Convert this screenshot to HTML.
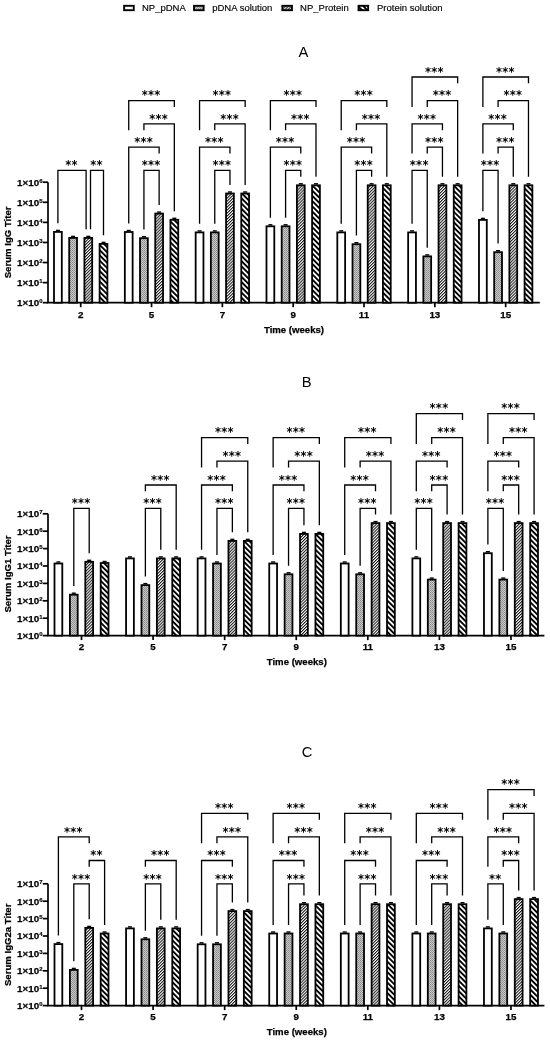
<!DOCTYPE html>
<html><head><meta charset="utf-8"><title>Serum titers</title>
<style>
html,body{margin:0;padding:0;background:#fff;}
svg{display:block;}
text{font-family:"Liberation Sans", Arial, Helvetica, sans-serif;fill:#000;}
.ttl{font-size:14.8px;text-anchor:middle;}
.axt{font-size:9.6px;font-weight:bold;stroke:#000;stroke-width:0.25px;}
.tl{font-size:9.8px;font-weight:bold;stroke:#000;stroke-width:0.25px;}
.sup{font-size:6px;font-weight:bold;stroke:#000;stroke-width:0.15px;}
.lg{font-size:9.5px;stroke:#000;stroke-width:0.15px;}
.st{font-family:"DejaVu Sans",sans-serif;font-weight:bold;font-size:11.5px;letter-spacing:0.25px;}
.ax{stroke:#000;stroke-width:1.7;fill:none;}
.bar{stroke:#000;stroke-width:1.8;}
.err{stroke:#000;stroke-width:1.4;}
.br{stroke:#000;stroke-width:1.3;fill:none;}
</style></head>
<body>
<svg width="550" height="1040" viewBox="0 0 550 1040">
<rect width="550" height="1040" fill="#fff"/>

<defs>
 <pattern id="p2" patternUnits="userSpaceOnUse" width="2" height="2">
  <rect width="2" height="2" fill="#c8c8c8"/>
  <rect width="1" height="1" fill="#8a8a8a"/>
  <rect x="1" y="1" width="1" height="1" fill="#9a9a9a"/>
 </pattern>
 <pattern id="p3" patternUnits="userSpaceOnUse" width="2.1" height="2.1" patternTransform="rotate(45)">
  <rect width="2.1" height="2.1" fill="#ffffff"/>
  <rect width="1.0" height="2.1" fill="#111"/>
 </pattern>
 <pattern id="p4" patternUnits="userSpaceOnUse" width="3.7" height="3.7" patternTransform="rotate(-45)">
  <rect width="3.7" height="3.7" fill="#ffffff"/>
  <rect width="1.9" height="3.7" fill="#000"/>
 </pattern>
</defs>

<g class="panel">
<text x="303.5" y="56.8" class="ttl">A</text>
<text class="axt" transform="translate(10.5,242.4) rotate(-90)" text-anchor="middle">Serum IgG Titer</text>
<line x1="42.8" x2="48" y1="302.7" y2="302.7" class="ax"/>
<text x="39.1" y="306.1" class="tl" text-anchor="end">1×10</text>
<text x="39.2" y="303" class="sup">0</text>
<line x1="42.8" x2="48" y1="282.62" y2="282.62" class="ax"/>
<text x="39.1" y="286.02" class="tl" text-anchor="end">1×10</text>
<text x="39.2" y="282.92" class="sup">1</text>
<line x1="42.8" x2="48" y1="262.54" y2="262.54" class="ax"/>
<text x="39.1" y="265.94" class="tl" text-anchor="end">1×10</text>
<text x="39.2" y="262.84" class="sup">2</text>
<line x1="42.8" x2="48" y1="242.46" y2="242.46" class="ax"/>
<text x="39.1" y="245.86" class="tl" text-anchor="end">1×10</text>
<text x="39.2" y="242.76" class="sup">3</text>
<line x1="42.8" x2="48" y1="222.38" y2="222.38" class="ax"/>
<text x="39.1" y="225.78" class="tl" text-anchor="end">1×10</text>
<text x="39.2" y="222.68" class="sup">4</text>
<line x1="42.8" x2="48" y1="202.3" y2="202.3" class="ax"/>
<text x="39.1" y="205.7" class="tl" text-anchor="end">1×10</text>
<text x="39.2" y="202.6" class="sup">5</text>
<line x1="42.8" x2="48" y1="182.22" y2="182.22" class="ax"/>
<text x="39.1" y="185.62" class="tl" text-anchor="end">1×10</text>
<text x="39.2" y="182.52" class="sup">6</text>
<path d="M48 182.22 V302.7 H539.8" class="ax" fill="none"/>
<line x1="80.7" x2="80.7" y1="302.7" y2="307.2" class="ax"/>
<text x="80.7" y="317.6" class="tl" text-anchor="middle">2</text>
<rect x="54" y="231.9" width="7.8" height="70.8" fill="#fff" class="bar"/>
<line x1="55.9" x2="59.9" y1="230.4" y2="230.4" class="err"/>
<rect x="69.2" y="237.9" width="7.8" height="64.8" fill="url(#p2)" class="bar"/>
<line x1="71.1" x2="75.1" y1="236.4" y2="236.4" class="err"/>
<rect x="84.4" y="237.9" width="7.8" height="64.8" fill="url(#p3)" class="bar"/>
<line x1="86.3" x2="90.3" y1="236.4" y2="236.4" class="err"/>
<rect x="99.6" y="243.9" width="7.8" height="58.8" fill="url(#p4)" class="bar"/>
<line x1="101.5" x2="105.5" y1="242.4" y2="242.4" class="err"/>
<path d="M57.9 223.3 V170.3 H86.1 V229.3" class="br"/>
<text x="71.62" y="169" class="st" text-anchor="middle">**</text>
<path d="M90.5 229.3 V170.3 H103.5 V235.3" class="br"/>
<text x="96.62" y="169" class="st" text-anchor="middle">**</text>
<line x1="151.53" x2="151.53" y1="302.7" y2="307.2" class="ax"/>
<text x="151.53" y="317.6" class="tl" text-anchor="middle">5</text>
<rect x="124.83" y="232" width="7.8" height="70.7" fill="#fff" class="bar"/>
<line x1="126.73" x2="130.73" y1="230.5" y2="230.5" class="err"/>
<rect x="140.03" y="238.2" width="7.8" height="64.5" fill="url(#p2)" class="bar"/>
<line x1="141.93" x2="145.93" y1="236.7" y2="236.7" class="err"/>
<rect x="155.23" y="213.6" width="7.8" height="89.1" fill="url(#p3)" class="bar"/>
<line x1="157.13" x2="161.13" y1="212.1" y2="212.1" class="err"/>
<rect x="170.43" y="219.8" width="7.8" height="82.9" fill="url(#p4)" class="bar"/>
<line x1="172.33" x2="176.33" y1="218.3" y2="218.3" class="err"/>
<path d="M128.73 130.2 V100.6 H174.33 V106.9" class="br"/>
<text x="151.16" y="99.3" class="st" text-anchor="middle">***</text>
<path d="M143.93 130.2 V123.9 H174.33 V211.2" class="br"/>
<text x="158.75" y="122.6" class="st" text-anchor="middle">***</text>
<path d="M128.73 223.4 V147.2 H159.13 V153.5" class="br"/>
<text x="143.56" y="145.9" class="st" text-anchor="middle">***</text>
<path d="M143.93 229.6 V170.3 H159.13 V205" class="br"/>
<text x="151.16" y="169" class="st" text-anchor="middle">***</text>
<line x1="222.36" x2="222.36" y1="302.7" y2="307.2" class="ax"/>
<text x="222.36" y="317.6" class="tl" text-anchor="middle">7</text>
<rect x="195.66" y="232.4" width="7.8" height="70.3" fill="#fff" class="bar"/>
<line x1="197.56" x2="201.56" y1="230.9" y2="230.9" class="err"/>
<rect x="210.86" y="232.4" width="7.8" height="70.3" fill="url(#p2)" class="bar"/>
<line x1="212.76" x2="216.76" y1="230.9" y2="230.9" class="err"/>
<rect x="226.06" y="193.5" width="7.8" height="109.2" fill="url(#p3)" class="bar"/>
<line x1="227.96" x2="231.96" y1="192" y2="192" class="err"/>
<rect x="241.26" y="193.5" width="7.8" height="109.2" fill="url(#p4)" class="bar"/>
<line x1="243.16" x2="247.16" y1="192" y2="192" class="err"/>
<path d="M199.56 130.2 V100.6 H245.16 V106.9" class="br"/>
<text x="221.99" y="99.3" class="st" text-anchor="middle">***</text>
<path d="M214.76 130.2 V123.9 H245.16 V184.9" class="br"/>
<text x="229.59" y="122.6" class="st" text-anchor="middle">***</text>
<path d="M199.56 223.8 V147.2 H229.96 V153.5" class="br"/>
<text x="214.38" y="145.9" class="st" text-anchor="middle">***</text>
<path d="M214.76 223.8 V170.3 H229.96 V184.9" class="br"/>
<text x="221.99" y="169" class="st" text-anchor="middle">***</text>
<line x1="293.19" x2="293.19" y1="302.7" y2="307.2" class="ax"/>
<text x="293.19" y="317.6" class="tl" text-anchor="middle">9</text>
<rect x="266.49" y="226.3" width="7.8" height="76.4" fill="#fff" class="bar"/>
<line x1="268.39" x2="272.39" y1="224.8" y2="224.8" class="err"/>
<rect x="281.69" y="226.3" width="7.8" height="76.4" fill="url(#p2)" class="bar"/>
<line x1="283.59" x2="287.59" y1="224.8" y2="224.8" class="err"/>
<rect x="296.89" y="185.3" width="7.8" height="117.4" fill="url(#p3)" class="bar"/>
<line x1="298.79" x2="302.79" y1="183.8" y2="183.8" class="err"/>
<rect x="312.09" y="185.3" width="7.8" height="117.4" fill="url(#p4)" class="bar"/>
<line x1="313.99" x2="317.99" y1="183.8" y2="183.8" class="err"/>
<path d="M270.39 130.2 V100.6 H315.99 V106.9" class="br"/>
<text x="292.81" y="99.3" class="st" text-anchor="middle">***</text>
<path d="M285.59 130.2 V123.9 H315.99 V176.7" class="br"/>
<text x="300.41" y="122.6" class="st" text-anchor="middle">***</text>
<path d="M270.39 217.7 V147.2 H300.79 V153.5" class="br"/>
<text x="285.22" y="145.9" class="st" text-anchor="middle">***</text>
<path d="M285.59 217.7 V170.3 H300.79 V176.7" class="br"/>
<text x="292.81" y="169" class="st" text-anchor="middle">***</text>
<line x1="364.02" x2="364.02" y1="302.7" y2="307.2" class="ax"/>
<text x="364.02" y="317.6" class="tl" text-anchor="middle">11</text>
<rect x="337.32" y="232.4" width="7.8" height="70.3" fill="#fff" class="bar"/>
<line x1="339.22" x2="343.22" y1="230.9" y2="230.9" class="err"/>
<rect x="352.52" y="244.2" width="7.8" height="58.5" fill="url(#p2)" class="bar"/>
<line x1="354.42" x2="358.42" y1="242.7" y2="242.7" class="err"/>
<rect x="367.72" y="185.3" width="7.8" height="117.4" fill="url(#p3)" class="bar"/>
<line x1="369.62" x2="373.62" y1="183.8" y2="183.8" class="err"/>
<rect x="382.92" y="185.3" width="7.8" height="117.4" fill="url(#p4)" class="bar"/>
<line x1="384.82" x2="388.82" y1="183.8" y2="183.8" class="err"/>
<path d="M341.22 130.2 V100.6 H386.82 V106.9" class="br"/>
<text x="363.64" y="99.3" class="st" text-anchor="middle">***</text>
<path d="M356.42 130.2 V123.9 H386.82 V176.7" class="br"/>
<text x="371.25" y="122.6" class="st" text-anchor="middle">***</text>
<path d="M341.22 223.8 V147.2 H371.62 V153.5" class="br"/>
<text x="356.04" y="145.9" class="st" text-anchor="middle">***</text>
<path d="M356.42 235.6 V170.3 H371.62 V176.7" class="br"/>
<text x="363.64" y="169" class="st" text-anchor="middle">***</text>
<line x1="434.85" x2="434.85" y1="302.7" y2="307.2" class="ax"/>
<text x="434.85" y="317.6" class="tl" text-anchor="middle">13</text>
<rect x="408.15" y="232.4" width="7.8" height="70.3" fill="#fff" class="bar"/>
<line x1="410.05" x2="414.05" y1="230.9" y2="230.9" class="err"/>
<rect x="423.35" y="256.4" width="7.8" height="46.3" fill="url(#p2)" class="bar"/>
<line x1="425.25" x2="429.25" y1="254.9" y2="254.9" class="err"/>
<rect x="438.55" y="185.3" width="7.8" height="117.4" fill="url(#p3)" class="bar"/>
<line x1="440.45" x2="444.45" y1="183.8" y2="183.8" class="err"/>
<rect x="453.75" y="185.3" width="7.8" height="117.4" fill="url(#p4)" class="bar"/>
<line x1="455.65" x2="459.65" y1="183.8" y2="183.8" class="err"/>
<path d="M412.05 106.9 V77 H457.65 V83.3" class="br"/>
<text x="434.47" y="75.7" class="st" text-anchor="middle">***</text>
<path d="M427.25 106.9 V100.6 H457.65 V176.7" class="br"/>
<text x="442.07" y="99.3" class="st" text-anchor="middle">***</text>
<path d="M412.05 153.5 V123.9 H442.45 V130.2" class="br"/>
<text x="426.88" y="122.6" class="st" text-anchor="middle">***</text>
<path d="M427.25 153.5 V147.2 H442.45 V176.7" class="br"/>
<text x="434.47" y="145.9" class="st" text-anchor="middle">***</text>
<path d="M412.05 223.8 V170.3 H427.25 V247.8" class="br"/>
<text x="419.27" y="169" class="st" text-anchor="middle">***</text>
<line x1="505.68" x2="505.68" y1="302.7" y2="307.2" class="ax"/>
<text x="505.68" y="317.6" class="tl" text-anchor="middle">15</text>
<rect x="478.98" y="219.9" width="7.8" height="82.8" fill="#fff" class="bar"/>
<line x1="480.88" x2="484.88" y1="218.4" y2="218.4" class="err"/>
<rect x="494.18" y="252.2" width="7.8" height="50.5" fill="url(#p2)" class="bar"/>
<line x1="496.08" x2="500.08" y1="250.7" y2="250.7" class="err"/>
<rect x="509.38" y="185.3" width="7.8" height="117.4" fill="url(#p3)" class="bar"/>
<line x1="511.28" x2="515.28" y1="183.8" y2="183.8" class="err"/>
<rect x="524.58" y="185.3" width="7.8" height="117.4" fill="url(#p4)" class="bar"/>
<line x1="526.48" x2="530.48" y1="183.8" y2="183.8" class="err"/>
<path d="M482.88 106.9 V77 H528.48 V83.3" class="br"/>
<text x="505.31" y="75.7" class="st" text-anchor="middle">***</text>
<path d="M498.08 106.9 V100.6 H528.48 V176.7" class="br"/>
<text x="512.9" y="99.3" class="st" text-anchor="middle">***</text>
<path d="M482.88 153.5 V123.9 H513.28 V130.2" class="br"/>
<text x="497.7" y="122.6" class="st" text-anchor="middle">***</text>
<path d="M498.08 153.5 V147.2 H513.28 V176.7" class="br"/>
<text x="505.3" y="145.9" class="st" text-anchor="middle">***</text>
<path d="M482.88 211.3 V170.3 H498.08 V243.6" class="br"/>
<text x="490.11" y="169" class="st" text-anchor="middle">***</text>
<text x="294" y="332.8" class="axt" text-anchor="middle">Time (weeks)</text>
</g>
<g class="panel">
<text x="306.8" y="386.8" class="ttl">B</text>
<text class="axt" transform="translate(10.5,574) rotate(-90)" text-anchor="middle">Serum IgG1 Titer</text>
<line x1="42.8" x2="48" y1="635.6" y2="635.6" class="ax"/>
<text x="39.1" y="639" class="tl" text-anchor="end">1×10</text>
<text x="39.2" y="635.9" class="sup">0</text>
<line x1="42.8" x2="48" y1="618.2" y2="618.2" class="ax"/>
<text x="39.1" y="621.6" class="tl" text-anchor="end">1×10</text>
<text x="39.2" y="618.5" class="sup">1</text>
<line x1="42.8" x2="48" y1="600.8" y2="600.8" class="ax"/>
<text x="39.1" y="604.2" class="tl" text-anchor="end">1×10</text>
<text x="39.2" y="601.1" class="sup">2</text>
<line x1="42.8" x2="48" y1="583.4" y2="583.4" class="ax"/>
<text x="39.1" y="586.8" class="tl" text-anchor="end">1×10</text>
<text x="39.2" y="583.7" class="sup">3</text>
<line x1="42.8" x2="48" y1="566" y2="566" class="ax"/>
<text x="39.1" y="569.4" class="tl" text-anchor="end">1×10</text>
<text x="39.2" y="566.3" class="sup">4</text>
<line x1="42.8" x2="48" y1="548.6" y2="548.6" class="ax"/>
<text x="39.1" y="552" class="tl" text-anchor="end">1×10</text>
<text x="39.2" y="548.9" class="sup">5</text>
<line x1="42.8" x2="48" y1="531.2" y2="531.2" class="ax"/>
<text x="39.1" y="534.6" class="tl" text-anchor="end">1×10</text>
<text x="39.2" y="531.5" class="sup">6</text>
<line x1="42.8" x2="48" y1="513.8" y2="513.8" class="ax"/>
<text x="39.1" y="517.2" class="tl" text-anchor="end">1×10</text>
<text x="39.2" y="514.1" class="sup">7</text>
<path d="M48 513.8 V635.6 H544.4" class="ax" fill="none"/>
<line x1="81.5" x2="81.5" y1="635.6" y2="640.1" class="ax"/>
<text x="81.5" y="650.4" class="tl" text-anchor="middle">2</text>
<rect x="54.5" y="563.5" width="7.8" height="72.1" fill="#fff" class="bar"/>
<line x1="56.4" x2="60.4" y1="562" y2="562" class="err"/>
<rect x="69.9" y="594.7" width="7.8" height="40.9" fill="url(#p2)" class="bar"/>
<line x1="71.8" x2="75.8" y1="593.2" y2="593.2" class="err"/>
<rect x="85.3" y="561.8" width="7.8" height="73.8" fill="url(#p3)" class="bar"/>
<line x1="87.2" x2="91.2" y1="560.3" y2="560.3" class="err"/>
<rect x="100.7" y="563" width="7.8" height="72.6" fill="url(#p4)" class="bar"/>
<line x1="102.6" x2="106.6" y1="561.5" y2="561.5" class="err"/>
<path d="M73.8 586.1 V508.4 H89.2 V553.2" class="br"/>
<text x="81.12" y="507.1" class="st" text-anchor="middle">***</text>
<line x1="153.08" x2="153.08" y1="635.6" y2="640.1" class="ax"/>
<text x="153.08" y="650.4" class="tl" text-anchor="middle">5</text>
<rect x="126.08" y="558.4" width="7.8" height="77.2" fill="#fff" class="bar"/>
<line x1="127.98" x2="131.98" y1="556.9" y2="556.9" class="err"/>
<rect x="141.48" y="585.1" width="7.8" height="50.5" fill="url(#p2)" class="bar"/>
<line x1="143.38" x2="147.38" y1="583.6" y2="583.6" class="err"/>
<rect x="156.88" y="558.4" width="7.8" height="77.2" fill="url(#p3)" class="bar"/>
<line x1="158.78" x2="162.78" y1="556.9" y2="556.9" class="err"/>
<rect x="172.28" y="558.4" width="7.8" height="77.2" fill="url(#p4)" class="bar"/>
<line x1="174.18" x2="178.18" y1="556.9" y2="556.9" class="err"/>
<path d="M145.38 491.3 V485 H176.18 V549.8" class="br"/>
<text x="160.4" y="483.7" class="st" text-anchor="middle">***</text>
<path d="M145.38 576.5 V508.4 H160.78 V549.8" class="br"/>
<text x="152.7" y="507.1" class="st" text-anchor="middle">***</text>
<line x1="224.66" x2="224.66" y1="635.6" y2="640.1" class="ax"/>
<text x="224.66" y="650.4" class="tl" text-anchor="middle">7</text>
<rect x="197.66" y="558.4" width="7.8" height="77.2" fill="#fff" class="bar"/>
<line x1="199.56" x2="203.56" y1="556.9" y2="556.9" class="err"/>
<rect x="213.06" y="563.5" width="7.8" height="72.1" fill="url(#p2)" class="bar"/>
<line x1="214.96" x2="218.96" y1="562" y2="562" class="err"/>
<rect x="228.46" y="540.9" width="7.8" height="94.7" fill="url(#p3)" class="bar"/>
<line x1="230.36" x2="234.36" y1="539.4" y2="539.4" class="err"/>
<rect x="243.86" y="540.9" width="7.8" height="94.7" fill="url(#p4)" class="bar"/>
<line x1="245.76" x2="249.76" y1="539.4" y2="539.4" class="err"/>
<path d="M201.56 467.5 V437.6 H247.76 V443.9" class="br"/>
<text x="224.28" y="436.3" class="st" text-anchor="middle">***</text>
<path d="M216.96 467.5 V461.2 H247.76 V532.3" class="br"/>
<text x="231.99" y="459.9" class="st" text-anchor="middle">***</text>
<path d="M201.56 549.8 V485 H232.36 V491.3" class="br"/>
<text x="216.58" y="483.7" class="st" text-anchor="middle">***</text>
<path d="M216.96 554.9 V508.4 H232.36 V532.3" class="br"/>
<text x="224.28" y="507.1" class="st" text-anchor="middle">***</text>
<line x1="296.24" x2="296.24" y1="635.6" y2="640.1" class="ax"/>
<text x="296.24" y="650.4" class="tl" text-anchor="middle">9</text>
<rect x="269.24" y="563.5" width="7.8" height="72.1" fill="#fff" class="bar"/>
<line x1="271.14" x2="275.14" y1="562" y2="562" class="err"/>
<rect x="284.64" y="574.3" width="7.8" height="61.3" fill="url(#p2)" class="bar"/>
<line x1="286.54" x2="290.54" y1="572.8" y2="572.8" class="err"/>
<rect x="300.04" y="533.9" width="7.8" height="101.7" fill="url(#p3)" class="bar"/>
<line x1="301.94" x2="305.94" y1="532.4" y2="532.4" class="err"/>
<rect x="315.44" y="533.9" width="7.8" height="101.7" fill="url(#p4)" class="bar"/>
<line x1="317.34" x2="321.34" y1="532.4" y2="532.4" class="err"/>
<path d="M273.14 467.5 V437.6 H319.34 V443.9" class="br"/>
<text x="295.87" y="436.3" class="st" text-anchor="middle">***</text>
<path d="M288.54 467.5 V461.2 H319.34 V525.3" class="br"/>
<text x="303.57" y="459.9" class="st" text-anchor="middle">***</text>
<path d="M273.14 554.9 V485 H303.94 V491.3" class="br"/>
<text x="288.16" y="483.7" class="st" text-anchor="middle">***</text>
<path d="M288.54 565.7 V508.4 H303.94 V525.3" class="br"/>
<text x="295.87" y="507.1" class="st" text-anchor="middle">***</text>
<line x1="367.82" x2="367.82" y1="635.6" y2="640.1" class="ax"/>
<text x="367.82" y="650.4" class="tl" text-anchor="middle">11</text>
<rect x="340.82" y="563.5" width="7.8" height="72.1" fill="#fff" class="bar"/>
<line x1="342.72" x2="346.72" y1="562" y2="562" class="err"/>
<rect x="356.22" y="574.3" width="7.8" height="61.3" fill="url(#p2)" class="bar"/>
<line x1="358.12" x2="362.12" y1="572.8" y2="572.8" class="err"/>
<rect x="371.62" y="523.1" width="7.8" height="112.5" fill="url(#p3)" class="bar"/>
<line x1="373.52" x2="377.52" y1="521.6" y2="521.6" class="err"/>
<rect x="387.02" y="523.1" width="7.8" height="112.5" fill="url(#p4)" class="bar"/>
<line x1="388.92" x2="392.92" y1="521.6" y2="521.6" class="err"/>
<path d="M344.72 467.5 V437.6 H390.92 V443.9" class="br"/>
<text x="367.44" y="436.3" class="st" text-anchor="middle">***</text>
<path d="M360.12 467.5 V461.2 H390.92 V514.5" class="br"/>
<text x="375.14" y="459.9" class="st" text-anchor="middle">***</text>
<path d="M344.72 554.9 V485 H375.52 V491.3" class="br"/>
<text x="359.75" y="483.7" class="st" text-anchor="middle">***</text>
<path d="M360.12 565.7 V508.4 H375.52 V514.5" class="br"/>
<text x="367.44" y="507.1" class="st" text-anchor="middle">***</text>
<line x1="439.4" x2="439.4" y1="635.6" y2="640.1" class="ax"/>
<text x="439.4" y="650.4" class="tl" text-anchor="middle">13</text>
<rect x="412.4" y="558.4" width="7.8" height="77.2" fill="#fff" class="bar"/>
<line x1="414.3" x2="418.3" y1="556.9" y2="556.9" class="err"/>
<rect x="427.8" y="579.6" width="7.8" height="56" fill="url(#p2)" class="bar"/>
<line x1="429.7" x2="433.7" y1="578.1" y2="578.1" class="err"/>
<rect x="443.2" y="523.1" width="7.8" height="112.5" fill="url(#p3)" class="bar"/>
<line x1="445.1" x2="449.1" y1="521.6" y2="521.6" class="err"/>
<rect x="458.6" y="523.1" width="7.8" height="112.5" fill="url(#p4)" class="bar"/>
<line x1="460.5" x2="464.5" y1="521.6" y2="521.6" class="err"/>
<path d="M416.3 443.9 V413.6 H462.5 V419.9" class="br"/>
<text x="439.02" y="412.3" class="st" text-anchor="middle">***</text>
<path d="M431.7 443.9 V437.6 H462.5 V514.5" class="br"/>
<text x="446.73" y="436.3" class="st" text-anchor="middle">***</text>
<path d="M416.3 491.3 V461.2 H447.1 V467.5" class="br"/>
<text x="431.32" y="459.9" class="st" text-anchor="middle">***</text>
<path d="M431.7 491.3 V485 H447.1 V514.5" class="br"/>
<text x="439.02" y="483.7" class="st" text-anchor="middle">***</text>
<path d="M416.3 549.8 V508.4 H431.7 V571" class="br"/>
<text x="423.62" y="507.1" class="st" text-anchor="middle">***</text>
<line x1="510.98" x2="510.98" y1="635.6" y2="640.1" class="ax"/>
<text x="510.98" y="650.4" class="tl" text-anchor="middle">15</text>
<rect x="483.98" y="553.2" width="7.8" height="82.4" fill="#fff" class="bar"/>
<line x1="485.88" x2="489.88" y1="551.7" y2="551.7" class="err"/>
<rect x="499.38" y="579.6" width="7.8" height="56" fill="url(#p2)" class="bar"/>
<line x1="501.28" x2="505.28" y1="578.1" y2="578.1" class="err"/>
<rect x="514.78" y="523.1" width="7.8" height="112.5" fill="url(#p3)" class="bar"/>
<line x1="516.68" x2="520.68" y1="521.6" y2="521.6" class="err"/>
<rect x="530.18" y="523.1" width="7.8" height="112.5" fill="url(#p4)" class="bar"/>
<line x1="532.08" x2="536.08" y1="521.6" y2="521.6" class="err"/>
<path d="M487.88 443.9 V413.6 H534.08 V419.9" class="br"/>
<text x="510.61" y="412.3" class="st" text-anchor="middle">***</text>
<path d="M503.28 443.9 V437.6 H534.08 V514.5" class="br"/>
<text x="518.31" y="436.3" class="st" text-anchor="middle">***</text>
<path d="M487.88 491.3 V461.2 H518.68 V467.5" class="br"/>
<text x="502.91" y="459.9" class="st" text-anchor="middle">***</text>
<path d="M503.28 491.3 V485 H518.68 V514.5" class="br"/>
<text x="510.61" y="483.7" class="st" text-anchor="middle">***</text>
<path d="M487.88 544.6 V508.4 H503.28 V571" class="br"/>
<text x="495.21" y="507.1" class="st" text-anchor="middle">***</text>
<text x="296.8" y="664.6" class="axt" text-anchor="middle">Time (weeks)</text>
</g>
<g class="panel">
<text x="307" y="757.2" class="ttl">C</text>
<text class="axt" transform="translate(10.5,944.8) rotate(-90)" text-anchor="middle">Serum IgG2a Titer</text>
<line x1="42.8" x2="48" y1="1005.6" y2="1005.6" class="ax"/>
<text x="39.1" y="1009" class="tl" text-anchor="end">1×10</text>
<text x="39.2" y="1005.9" class="sup">0</text>
<line x1="42.8" x2="48" y1="988.2" y2="988.2" class="ax"/>
<text x="39.1" y="991.6" class="tl" text-anchor="end">1×10</text>
<text x="39.2" y="988.5" class="sup">1</text>
<line x1="42.8" x2="48" y1="970.8" y2="970.8" class="ax"/>
<text x="39.1" y="974.2" class="tl" text-anchor="end">1×10</text>
<text x="39.2" y="971.1" class="sup">2</text>
<line x1="42.8" x2="48" y1="953.4" y2="953.4" class="ax"/>
<text x="39.1" y="956.8" class="tl" text-anchor="end">1×10</text>
<text x="39.2" y="953.7" class="sup">3</text>
<line x1="42.8" x2="48" y1="936" y2="936" class="ax"/>
<text x="39.1" y="939.4" class="tl" text-anchor="end">1×10</text>
<text x="39.2" y="936.3" class="sup">4</text>
<line x1="42.8" x2="48" y1="918.6" y2="918.6" class="ax"/>
<text x="39.1" y="922" class="tl" text-anchor="end">1×10</text>
<text x="39.2" y="918.9" class="sup">5</text>
<line x1="42.8" x2="48" y1="901.2" y2="901.2" class="ax"/>
<text x="39.1" y="904.6" class="tl" text-anchor="end">1×10</text>
<text x="39.2" y="901.5" class="sup">6</text>
<line x1="42.8" x2="48" y1="883.8" y2="883.8" class="ax"/>
<text x="39.1" y="887.2" class="tl" text-anchor="end">1×10</text>
<text x="39.2" y="884.1" class="sup">7</text>
<path d="M48 883.8 V1005.6 H544.4" class="ax" fill="none"/>
<line x1="81.5" x2="81.5" y1="1005.6" y2="1010.1" class="ax"/>
<text x="81.5" y="1020.4" class="tl" text-anchor="middle">2</text>
<rect x="54.5" y="944.1" width="7.8" height="61.5" fill="#fff" class="bar"/>
<line x1="56.4" x2="60.4" y1="942.6" y2="942.6" class="err"/>
<rect x="69.9" y="969.9" width="7.8" height="35.7" fill="url(#p2)" class="bar"/>
<line x1="71.8" x2="75.8" y1="968.4" y2="968.4" class="err"/>
<rect x="85.3" y="927.9" width="7.8" height="77.7" fill="url(#p3)" class="bar"/>
<line x1="87.2" x2="91.2" y1="926.4" y2="926.4" class="err"/>
<rect x="100.7" y="933.5" width="7.8" height="72.1" fill="url(#p4)" class="bar"/>
<line x1="102.6" x2="106.6" y1="932" y2="932" class="err"/>
<path d="M58.4 935.5 V836.9 H89.2 V843.2" class="br"/>
<text x="73.42" y="835.6" class="st" text-anchor="middle">***</text>
<path d="M89.2 866.8 V860.5 H104.6 V924.9" class="br"/>
<text x="96.53" y="859.2" class="st" text-anchor="middle">**</text>
<path d="M73.8 961.3 V883.8 H89.2 V919.3" class="br"/>
<text x="81.12" y="882.5" class="st" text-anchor="middle">***</text>
<line x1="153.08" x2="153.08" y1="1005.6" y2="1010.1" class="ax"/>
<text x="153.08" y="1020.4" class="tl" text-anchor="middle">5</text>
<rect x="126.08" y="928.4" width="7.8" height="77.2" fill="#fff" class="bar"/>
<line x1="127.98" x2="131.98" y1="926.9" y2="926.9" class="err"/>
<rect x="141.48" y="939.3" width="7.8" height="66.3" fill="url(#p2)" class="bar"/>
<line x1="143.38" x2="147.38" y1="937.8" y2="937.8" class="err"/>
<rect x="156.88" y="928.4" width="7.8" height="77.2" fill="url(#p3)" class="bar"/>
<line x1="158.78" x2="162.78" y1="926.9" y2="926.9" class="err"/>
<rect x="172.28" y="928.4" width="7.8" height="77.2" fill="url(#p4)" class="bar"/>
<line x1="174.18" x2="178.18" y1="926.9" y2="926.9" class="err"/>
<path d="M145.38 866.8 V860.5 H176.18 V919.8" class="br"/>
<text x="160.4" y="859.2" class="st" text-anchor="middle">***</text>
<path d="M145.38 930.7 V883.8 H160.78 V919.8" class="br"/>
<text x="152.7" y="882.5" class="st" text-anchor="middle">***</text>
<line x1="224.66" x2="224.66" y1="1005.6" y2="1010.1" class="ax"/>
<text x="224.66" y="1020.4" class="tl" text-anchor="middle">7</text>
<rect x="197.66" y="944.3" width="7.8" height="61.3" fill="#fff" class="bar"/>
<line x1="199.56" x2="203.56" y1="942.8" y2="942.8" class="err"/>
<rect x="213.06" y="944.3" width="7.8" height="61.3" fill="url(#p2)" class="bar"/>
<line x1="214.96" x2="218.96" y1="942.8" y2="942.8" class="err"/>
<rect x="228.46" y="911.1" width="7.8" height="94.5" fill="url(#p3)" class="bar"/>
<line x1="230.36" x2="234.36" y1="909.6" y2="909.6" class="err"/>
<rect x="243.86" y="911.1" width="7.8" height="94.5" fill="url(#p4)" class="bar"/>
<line x1="245.76" x2="249.76" y1="909.6" y2="909.6" class="err"/>
<path d="M201.56 843.2 V813.4 H247.76 V819.7" class="br"/>
<text x="224.28" y="812.1" class="st" text-anchor="middle">***</text>
<path d="M216.96 843.2 V836.9 H247.76 V902.5" class="br"/>
<text x="231.99" y="835.6" class="st" text-anchor="middle">***</text>
<path d="M201.56 935.7 V860.5 H232.36 V866.8" class="br"/>
<text x="216.58" y="859.2" class="st" text-anchor="middle">***</text>
<path d="M216.96 935.7 V883.8 H232.36 V902.5" class="br"/>
<text x="224.28" y="882.5" class="st" text-anchor="middle">***</text>
<line x1="296.24" x2="296.24" y1="1005.6" y2="1010.1" class="ax"/>
<text x="296.24" y="1020.4" class="tl" text-anchor="middle">9</text>
<rect x="269.24" y="933.5" width="7.8" height="72.1" fill="#fff" class="bar"/>
<line x1="271.14" x2="275.14" y1="932" y2="932" class="err"/>
<rect x="284.64" y="933.5" width="7.8" height="72.1" fill="url(#p2)" class="bar"/>
<line x1="286.54" x2="290.54" y1="932" y2="932" class="err"/>
<rect x="300.04" y="904.2" width="7.8" height="101.4" fill="url(#p3)" class="bar"/>
<line x1="301.94" x2="305.94" y1="902.7" y2="902.7" class="err"/>
<rect x="315.44" y="904.2" width="7.8" height="101.4" fill="url(#p4)" class="bar"/>
<line x1="317.34" x2="321.34" y1="902.7" y2="902.7" class="err"/>
<path d="M273.14 843.2 V813.4 H319.34 V819.7" class="br"/>
<text x="295.87" y="812.1" class="st" text-anchor="middle">***</text>
<path d="M288.54 843.2 V836.9 H319.34 V895.6" class="br"/>
<text x="303.57" y="835.6" class="st" text-anchor="middle">***</text>
<path d="M273.14 924.9 V860.5 H303.94 V866.8" class="br"/>
<text x="288.16" y="859.2" class="st" text-anchor="middle">***</text>
<path d="M288.54 924.9 V883.8 H303.94 V895.6" class="br"/>
<text x="295.87" y="882.5" class="st" text-anchor="middle">***</text>
<line x1="367.82" x2="367.82" y1="1005.6" y2="1010.1" class="ax"/>
<text x="367.82" y="1020.4" class="tl" text-anchor="middle">11</text>
<rect x="340.82" y="933.5" width="7.8" height="72.1" fill="#fff" class="bar"/>
<line x1="342.72" x2="346.72" y1="932" y2="932" class="err"/>
<rect x="356.22" y="933.5" width="7.8" height="72.1" fill="url(#p2)" class="bar"/>
<line x1="358.12" x2="362.12" y1="932" y2="932" class="err"/>
<rect x="371.62" y="904.2" width="7.8" height="101.4" fill="url(#p3)" class="bar"/>
<line x1="373.52" x2="377.52" y1="902.7" y2="902.7" class="err"/>
<rect x="387.02" y="904.2" width="7.8" height="101.4" fill="url(#p4)" class="bar"/>
<line x1="388.92" x2="392.92" y1="902.7" y2="902.7" class="err"/>
<path d="M344.72 843.2 V813.4 H390.92 V819.7" class="br"/>
<text x="367.44" y="812.1" class="st" text-anchor="middle">***</text>
<path d="M360.12 843.2 V836.9 H390.92 V895.6" class="br"/>
<text x="375.14" y="835.6" class="st" text-anchor="middle">***</text>
<path d="M344.72 924.9 V860.5 H375.52 V866.8" class="br"/>
<text x="359.75" y="859.2" class="st" text-anchor="middle">***</text>
<path d="M360.12 924.9 V883.8 H375.52 V895.6" class="br"/>
<text x="367.44" y="882.5" class="st" text-anchor="middle">***</text>
<line x1="439.4" x2="439.4" y1="1005.6" y2="1010.1" class="ax"/>
<text x="439.4" y="1020.4" class="tl" text-anchor="middle">13</text>
<rect x="412.4" y="933.5" width="7.8" height="72.1" fill="#fff" class="bar"/>
<line x1="414.3" x2="418.3" y1="932" y2="932" class="err"/>
<rect x="427.8" y="933.5" width="7.8" height="72.1" fill="url(#p2)" class="bar"/>
<line x1="429.7" x2="433.7" y1="932" y2="932" class="err"/>
<rect x="443.2" y="904.2" width="7.8" height="101.4" fill="url(#p3)" class="bar"/>
<line x1="445.1" x2="449.1" y1="902.7" y2="902.7" class="err"/>
<rect x="458.6" y="904.2" width="7.8" height="101.4" fill="url(#p4)" class="bar"/>
<line x1="460.5" x2="464.5" y1="902.7" y2="902.7" class="err"/>
<path d="M416.3 843.2 V813.4 H462.5 V819.7" class="br"/>
<text x="439.02" y="812.1" class="st" text-anchor="middle">***</text>
<path d="M431.7 843.2 V836.9 H462.5 V895.6" class="br"/>
<text x="446.73" y="835.6" class="st" text-anchor="middle">***</text>
<path d="M416.3 924.9 V860.5 H447.1 V866.8" class="br"/>
<text x="431.32" y="859.2" class="st" text-anchor="middle">***</text>
<path d="M431.7 924.9 V883.8 H447.1 V895.6" class="br"/>
<text x="439.02" y="882.5" class="st" text-anchor="middle">***</text>
<line x1="510.98" x2="510.98" y1="1005.6" y2="1010.1" class="ax"/>
<text x="510.98" y="1020.4" class="tl" text-anchor="middle">15</text>
<rect x="483.98" y="928.4" width="7.8" height="77.2" fill="#fff" class="bar"/>
<line x1="485.88" x2="489.88" y1="926.9" y2="926.9" class="err"/>
<rect x="499.38" y="933.5" width="7.8" height="72.1" fill="url(#p2)" class="bar"/>
<line x1="501.28" x2="505.28" y1="932" y2="932" class="err"/>
<rect x="514.78" y="899.1" width="7.8" height="106.5" fill="url(#p3)" class="bar"/>
<line x1="516.68" x2="520.68" y1="897.6" y2="897.6" class="err"/>
<rect x="530.18" y="899.1" width="7.8" height="106.5" fill="url(#p4)" class="bar"/>
<line x1="532.08" x2="536.08" y1="897.6" y2="897.6" class="err"/>
<path d="M487.88 819.7 V789.6 H534.08 V795.9" class="br"/>
<text x="510.61" y="788.3" class="st" text-anchor="middle">***</text>
<path d="M503.28 819.7 V813.4 H534.08 V890.5" class="br"/>
<text x="518.31" y="812.1" class="st" text-anchor="middle">***</text>
<path d="M487.88 866.8 V836.9 H518.68 V843.2" class="br"/>
<text x="502.91" y="835.6" class="st" text-anchor="middle">***</text>
<path d="M503.28 866.8 V860.5 H518.68 V890.5" class="br"/>
<text x="510.61" y="859.2" class="st" text-anchor="middle">***</text>
<path d="M487.88 919.8 V883.8 H503.28 V924.9" class="br"/>
<text x="495.21" y="882.5" class="st" text-anchor="middle">**</text>
<text x="296.8" y="1034.9" class="axt" text-anchor="middle">Time (weeks)</text>
</g>
<rect x="124.15" y="5.8" width="9.6" height="4.4" fill="#fff" stroke="#000" stroke-width="1.9"/>
<text x="142" y="11.1" class="lg">NP_pDNA</text>
<rect x="194.05" y="5.8" width="9.6" height="4.4" fill="url(#p2)" stroke="#000" stroke-width="1.9"/>
<text x="212.2" y="11.1" class="lg">pDNA solution</text>
<rect x="282.35" y="5.8" width="9.6" height="4.4" fill="url(#p3)" stroke="#000" stroke-width="1.9"/>
<text x="300.1" y="11.1" class="lg">NP_Protein</text>
<rect x="358.55" y="5.8" width="9.6" height="4.4" fill="url(#p4)" stroke="#000" stroke-width="1.9"/>
<text x="377" y="11.1" class="lg">Protein solution</text>
</svg>
</body></html>
